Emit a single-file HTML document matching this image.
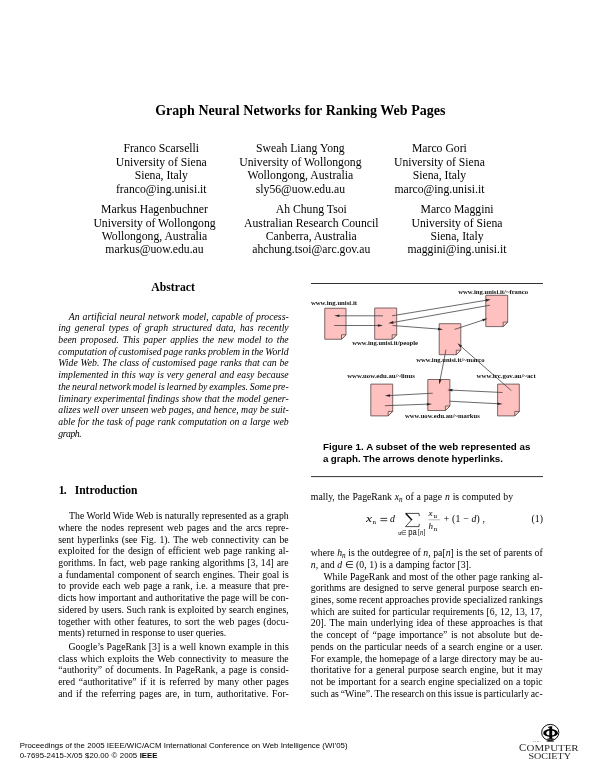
<!DOCTYPE html><html><head><meta charset="utf-8"><style>
html,body{margin:0;padding:0;background:#fff;}
body{width:600px;height:776px;position:relative;overflow:hidden;color:#000;}
#pg{position:absolute;left:0;top:0;width:600px;height:776px;color:#000;filter:blur(0.3px);}
.ln{position:absolute;white-space:nowrap;}
sub{font-size:74%;vertical-align:baseline;position:relative;top:0.3em;line-height:0;}
</style></head><body><div id="pg"><div class="ln" id="ln0" style="top:104.28px;font-size:14.00px;line-height:14.00px;font-family:'Liberation Serif', serif;font-weight:bold;font-style:normal;word-spacing:0.098px;left:155.20px;">Graph Neural Networks for Ranking Web Pages</div><div class="ln" id="ln1" style="top:143.20px;font-size:11.70px;line-height:11.70px;font-family:'Liberation Serif', serif;font-weight:normal;font-style:normal;left:161.25px;transform:translateX(-50%);">Franco Scarselli</div><div class="ln" id="ln2" style="top:156.70px;font-size:11.70px;line-height:11.70px;font-family:'Liberation Serif', serif;font-weight:normal;font-style:normal;left:161.25px;transform:translateX(-50%);">University of Siena</div><div class="ln" id="ln3" style="top:170.20px;font-size:11.70px;line-height:11.70px;font-family:'Liberation Serif', serif;font-weight:normal;font-style:normal;left:161.25px;transform:translateX(-50%);">Siena, Italy</div><div class="ln" id="ln4" style="top:183.60px;font-size:11.70px;line-height:11.70px;font-family:'Liberation Serif', serif;font-weight:normal;font-style:normal;left:161.25px;transform:translateX(-50%);">franco@ing.unisi.it</div><div class="ln" id="ln5" style="top:143.20px;font-size:11.70px;line-height:11.70px;font-family:'Liberation Serif', serif;font-weight:normal;font-style:normal;left:300.40px;transform:translateX(-50%);">Sweah Liang Yong</div><div class="ln" id="ln6" style="top:156.70px;font-size:11.70px;line-height:11.70px;font-family:'Liberation Serif', serif;font-weight:normal;font-style:normal;left:300.40px;transform:translateX(-50%);">University of Wollongong</div><div class="ln" id="ln7" style="top:170.20px;font-size:11.70px;line-height:11.70px;font-family:'Liberation Serif', serif;font-weight:normal;font-style:normal;left:300.40px;transform:translateX(-50%);">Wollongong, Australia</div><div class="ln" id="ln8" style="top:183.60px;font-size:11.70px;line-height:11.70px;font-family:'Liberation Serif', serif;font-weight:normal;font-style:normal;left:300.40px;transform:translateX(-50%);">sly56@uow.edu.au</div><div class="ln" id="ln9" style="top:143.20px;font-size:11.70px;line-height:11.70px;font-family:'Liberation Serif', serif;font-weight:normal;font-style:normal;left:439.40px;transform:translateX(-50%);">Marco Gori</div><div class="ln" id="ln10" style="top:156.70px;font-size:11.70px;line-height:11.70px;font-family:'Liberation Serif', serif;font-weight:normal;font-style:normal;left:439.40px;transform:translateX(-50%);">University of Siena</div><div class="ln" id="ln11" style="top:170.20px;font-size:11.70px;line-height:11.70px;font-family:'Liberation Serif', serif;font-weight:normal;font-style:normal;left:439.40px;transform:translateX(-50%);">Siena, Italy</div><div class="ln" id="ln12" style="top:183.60px;font-size:11.70px;line-height:11.70px;font-family:'Liberation Serif', serif;font-weight:normal;font-style:normal;left:439.40px;transform:translateX(-50%);">marco@ing.unisi.it</div><div class="ln" id="ln13" style="top:204.20px;font-size:11.70px;line-height:11.70px;font-family:'Liberation Serif', serif;font-weight:normal;font-style:normal;left:154.50px;transform:translateX(-50%);">Markus Hagenbuchner</div><div class="ln" id="ln14" style="top:217.95px;font-size:11.70px;line-height:11.70px;font-family:'Liberation Serif', serif;font-weight:normal;font-style:normal;left:154.50px;transform:translateX(-50%);">University of Wollongong</div><div class="ln" id="ln15" style="top:231.20px;font-size:11.70px;line-height:11.70px;font-family:'Liberation Serif', serif;font-weight:normal;font-style:normal;left:154.50px;transform:translateX(-50%);">Wollongong, Australia</div><div class="ln" id="ln16" style="top:244.20px;font-size:11.70px;line-height:11.70px;font-family:'Liberation Serif', serif;font-weight:normal;font-style:normal;left:154.50px;transform:translateX(-50%);">markus@uow.edu.au</div><div class="ln" id="ln17" style="top:204.20px;font-size:11.70px;line-height:11.70px;font-family:'Liberation Serif', serif;font-weight:normal;font-style:normal;left:311.25px;transform:translateX(-50%);">Ah Chung Tsoi</div><div class="ln" id="ln18" style="top:217.95px;font-size:11.70px;line-height:11.70px;font-family:'Liberation Serif', serif;font-weight:normal;font-style:normal;left:311.25px;transform:translateX(-50%);">Australian Research Council</div><div class="ln" id="ln19" style="top:231.20px;font-size:11.70px;line-height:11.70px;font-family:'Liberation Serif', serif;font-weight:normal;font-style:normal;left:311.25px;transform:translateX(-50%);">Canberra, Australia</div><div class="ln" id="ln20" style="top:244.20px;font-size:11.70px;line-height:11.70px;font-family:'Liberation Serif', serif;font-weight:normal;font-style:normal;left:311.25px;transform:translateX(-50%);">ahchung.tsoi@arc.gov.au</div><div class="ln" id="ln21" style="top:204.20px;font-size:11.70px;line-height:11.70px;font-family:'Liberation Serif', serif;font-weight:normal;font-style:normal;left:457.00px;transform:translateX(-50%);">Marco Maggini</div><div class="ln" id="ln22" style="top:217.95px;font-size:11.70px;line-height:11.70px;font-family:'Liberation Serif', serif;font-weight:normal;font-style:normal;left:457.00px;transform:translateX(-50%);">University of Siena</div><div class="ln" id="ln23" style="top:231.20px;font-size:11.70px;line-height:11.70px;font-family:'Liberation Serif', serif;font-weight:normal;font-style:normal;left:457.00px;transform:translateX(-50%);">Siena, Italy</div><div class="ln" id="ln24" style="top:244.20px;font-size:11.70px;line-height:11.70px;font-family:'Liberation Serif', serif;font-weight:normal;font-style:normal;left:457.00px;transform:translateX(-50%);">maggini@ing.unisi.it</div><div class="ln" id="ln25" style="top:281.70px;font-size:11.70px;line-height:11.70px;font-family:'Liberation Serif', serif;font-weight:bold;font-style:normal;letter-spacing:0.029px;left:151.25px;">Abstract</div><div class="ln" id="ln26" style="top:311.58px;font-size:9.75px;line-height:9.75px;font-family:'Liberation Serif', serif;font-weight:normal;font-style:italic;word-spacing:0.524px;left:68.75px;">An artificial neural network model, capable of process-</div><div class="ln" id="ln27" style="top:323.29px;font-size:9.75px;line-height:9.75px;font-family:'Liberation Serif', serif;font-weight:normal;font-style:italic;word-spacing:1.714px;left:58.25px;">ing general types of graph structured data, has recently</div><div class="ln" id="ln28" style="top:334.99px;font-size:9.75px;line-height:9.75px;font-family:'Liberation Serif', serif;font-weight:normal;font-style:italic;word-spacing:1.453px;left:58.25px;">been proposed. This paper applies the new model to the</div><div class="ln" id="ln29" style="top:346.70px;font-size:9.75px;line-height:9.75px;font-family:'Liberation Serif', serif;font-weight:normal;font-style:italic;word-spacing:-0.555px;left:58.25px;">computation of customised page ranks problem in the World</div><div class="ln" id="ln30" style="top:358.40px;font-size:9.75px;line-height:9.75px;font-family:'Liberation Serif', serif;font-weight:normal;font-style:italic;word-spacing:0.361px;left:58.25px;">Wide Web. The class of customised page ranks that can be</div><div class="ln" id="ln31" style="top:370.11px;font-size:9.75px;line-height:9.75px;font-family:'Liberation Serif', serif;font-weight:normal;font-style:italic;word-spacing:0.545px;left:58.25px;">implemented in this way is very general and easy because</div><div class="ln" id="ln32" style="top:381.81px;font-size:9.75px;line-height:9.75px;font-family:'Liberation Serif', serif;font-weight:normal;font-style:italic;word-spacing:-0.589px;left:58.25px;">the neural network model is learned by examples. Some pre-</div><div class="ln" id="ln33" style="top:393.52px;font-size:9.75px;line-height:9.75px;font-family:'Liberation Serif', serif;font-weight:normal;font-style:italic;word-spacing:0.258px;left:58.25px;">liminary experimental findings show that the model gener-</div><div class="ln" id="ln34" style="top:405.22px;font-size:9.75px;line-height:9.75px;font-family:'Liberation Serif', serif;font-weight:normal;font-style:italic;word-spacing:-0.025px;left:58.25px;">alizes well over unseen web pages, and hence, may be suit-</div><div class="ln" id="ln35" style="top:416.93px;font-size:9.75px;line-height:9.75px;font-family:'Liberation Serif', serif;font-weight:normal;font-style:italic;word-spacing:0.376px;left:58.25px;">able for the task of page rank computation on a large web</div><div class="ln" id="ln36" style="top:428.63px;font-size:9.75px;line-height:9.75px;font-family:'Liberation Serif', serif;font-weight:normal;font-style:italic;letter-spacing:-0.457px;left:58.25px;">graph.</div><div class="ln" id="ln37" style="top:485.09px;font-size:11.60px;line-height:11.60px;font-family:'Liberation Serif', serif;font-weight:bold;font-style:normal;letter-spacing:-0.703px;left:58.70px;">1.</div><div class="ln" id="ln38" style="top:485.09px;font-size:11.60px;line-height:11.60px;font-family:'Liberation Serif', serif;font-weight:bold;font-style:normal;letter-spacing:-0.013px;left:74.70px;">Introduction</div><div class="ln" id="ln39" style="top:511.13px;font-size:9.75px;line-height:9.75px;font-family:'Liberation Serif', serif;font-weight:normal;font-style:normal;word-spacing:-0.020px;left:69.10px;">The World Wide Web is naturally represented as a graph</div><div class="ln" id="ln40" style="top:522.85px;font-size:9.75px;line-height:9.75px;font-family:'Liberation Serif', serif;font-weight:normal;font-style:normal;word-spacing:1.211px;left:58.25px;">where the nodes represent web pages and the arcs repre-</div><div class="ln" id="ln41" style="top:534.57px;font-size:9.75px;line-height:9.75px;font-family:'Liberation Serif', serif;font-weight:normal;font-style:normal;word-spacing:0.866px;left:58.25px;">sent hyperlinks (see Fig. 1). The web connectivity can be</div><div class="ln" id="ln42" style="top:546.29px;font-size:9.75px;line-height:9.75px;font-family:'Liberation Serif', serif;font-weight:normal;font-style:normal;word-spacing:0.928px;left:58.25px;">exploited for the design of efficient web page ranking al-</div><div class="ln" id="ln43" style="top:558.01px;font-size:9.75px;line-height:9.75px;font-family:'Liberation Serif', serif;font-weight:normal;font-style:normal;word-spacing:0.515px;left:58.25px;">gorithms. In fact, web page ranking algorithms [3, 14] are</div><div class="ln" id="ln44" style="top:569.73px;font-size:9.75px;line-height:9.75px;font-family:'Liberation Serif', serif;font-weight:normal;font-style:normal;word-spacing:0.636px;left:58.25px;">a fundamental component of search engines. Their goal is</div><div class="ln" id="ln45" style="top:581.45px;font-size:9.75px;line-height:9.75px;font-family:'Liberation Serif', serif;font-weight:normal;font-style:normal;word-spacing:0.966px;left:58.25px;">to provide each web page a rank, i.e. a measure that pre-</div><div class="ln" id="ln46" style="top:593.17px;font-size:9.75px;line-height:9.75px;font-family:'Liberation Serif', serif;font-weight:normal;font-style:normal;word-spacing:0.003px;left:58.25px;">dicts how important and authoritative the page will be con-</div><div class="ln" id="ln47" style="top:604.89px;font-size:9.75px;line-height:9.75px;font-family:'Liberation Serif', serif;font-weight:normal;font-style:normal;word-spacing:0.184px;left:58.25px;">sidered by users. Such rank is exploited by search engines,</div><div class="ln" id="ln48" style="top:616.61px;font-size:9.75px;line-height:9.75px;font-family:'Liberation Serif', serif;font-weight:normal;font-style:normal;word-spacing:0.876px;left:58.25px;">together with other features, to sort the web pages (docu-</div><div class="ln" id="ln49" style="top:628.33px;font-size:9.75px;line-height:9.75px;font-family:'Liberation Serif', serif;font-weight:normal;font-style:normal;word-spacing:-0.294px;left:58.25px;">ments) returned in response to user queries.</div><div class="ln" id="ln50" style="top:641.93px;font-size:9.75px;line-height:9.75px;font-family:'Liberation Serif', serif;font-weight:normal;font-style:normal;word-spacing:0.366px;left:68.50px;">Google’s PageRank [3] is a well known example in this</div><div class="ln" id="ln51" style="top:653.63px;font-size:9.75px;line-height:9.75px;font-family:'Liberation Serif', serif;font-weight:normal;font-style:normal;word-spacing:0.970px;left:58.25px;">class which exploits the Web connectivity to measure the</div><div class="ln" id="ln52" style="top:665.33px;font-size:9.75px;line-height:9.75px;font-family:'Liberation Serif', serif;font-weight:normal;font-style:normal;word-spacing:0.781px;left:58.25px;">“authority” of documents. In PageRank, a page is consid-</div><div class="ln" id="ln53" style="top:677.03px;font-size:9.75px;line-height:9.75px;font-family:'Liberation Serif', serif;font-weight:normal;font-style:normal;word-spacing:1.270px;left:58.25px;">ered “authoritative” if it is referred by many other pages</div><div class="ln" id="ln54" style="top:688.73px;font-size:9.75px;line-height:9.75px;font-family:'Liberation Serif', serif;font-weight:normal;font-style:normal;word-spacing:1.321px;left:58.25px;">and if the referring pages are, in turn, authoritative. For-</div><div class="ln" id="ln55" style="top:492.33px;font-size:9.75px;line-height:9.75px;font-family:'Liberation Serif', serif;font-weight:normal;font-style:normal;word-spacing:0.400px;left:310.80px;">mally, the PageRank <i>x</i><sub><i>n</i></sub> of a page <i>n</i> is computed by</div><div class="ln" id="ln56" style="top:548.03px;font-size:9.75px;line-height:9.75px;font-family:'Liberation Serif', serif;font-weight:normal;font-style:normal;word-spacing:0.105px;left:310.80px;">where <i>h</i><sub><i>n</i></sub> is the outdegree of <i>n</i>, pa[<i>n</i>] is the set of parents of</div><div class="ln" id="ln57" style="top:559.93px;font-size:9.75px;line-height:9.75px;font-family:'Liberation Serif', serif;font-weight:normal;font-style:normal;word-spacing:0.069px;left:310.80px;"><i>n</i>, and <i>d</i> ∈ (0, 1) is a damping factor [3].</div><div class="ln" id="ln58" style="top:571.58px;font-size:9.75px;line-height:9.75px;font-family:'Liberation Serif', serif;font-weight:normal;font-style:normal;word-spacing:0.269px;left:323.40px;">While PageRank and most of the other page ranking al-</div><div class="ln" id="ln59" style="top:583.29px;font-size:9.75px;line-height:9.75px;font-family:'Liberation Serif', serif;font-weight:normal;font-style:normal;word-spacing:0.763px;left:310.80px;">gorithms are designed to serve general purpose search en-</div><div class="ln" id="ln60" style="top:595.00px;font-size:9.75px;line-height:9.75px;font-family:'Liberation Serif', serif;font-weight:normal;font-style:normal;word-spacing:-0.110px;left:310.80px;">gines, some recent approaches provide specialized rankings</div><div class="ln" id="ln61" style="top:606.71px;font-size:9.75px;line-height:9.75px;font-family:'Liberation Serif', serif;font-weight:normal;font-style:normal;word-spacing:0.420px;left:310.80px;">which are suited for particular requirements  [6, 12, 13, 17,</div><div class="ln" id="ln62" style="top:618.42px;font-size:9.75px;line-height:9.75px;font-family:'Liberation Serif', serif;font-weight:normal;font-style:normal;word-spacing:0.937px;left:310.80px;">20]. The main underlying idea of these approaches is that</div><div class="ln" id="ln63" style="top:630.13px;font-size:9.75px;line-height:9.75px;font-family:'Liberation Serif', serif;font-weight:normal;font-style:normal;word-spacing:1.369px;left:310.80px;">the concept of “page importance” is not absolute but de-</div><div class="ln" id="ln64" style="top:641.84px;font-size:9.75px;line-height:9.75px;font-family:'Liberation Serif', serif;font-weight:normal;font-style:normal;word-spacing:0.654px;left:310.80px;">pends on the particular needs of a search engine or a user.</div><div class="ln" id="ln65" style="top:653.55px;font-size:9.75px;line-height:9.75px;font-family:'Liberation Serif', serif;font-weight:normal;font-style:normal;word-spacing:0.115px;left:310.80px;">For example, the homepage of a large directory may be au-</div><div class="ln" id="ln66" style="top:665.26px;font-size:9.75px;line-height:9.75px;font-family:'Liberation Serif', serif;font-weight:normal;font-style:normal;word-spacing:0.739px;left:310.80px;">thoritative for a general purpose search engine, but it may</div><div class="ln" id="ln67" style="top:676.97px;font-size:9.75px;line-height:9.75px;font-family:'Liberation Serif', serif;font-weight:normal;font-style:normal;word-spacing:0.448px;left:310.80px;">not be important for a search engine specialized on a topic</div><div class="ln" id="ln68" style="top:688.68px;font-size:9.75px;line-height:9.75px;font-family:'Liberation Serif', serif;font-weight:normal;font-style:normal;word-spacing:-0.443px;left:310.80px;">such as “Wine”. The research on this issue is particularly ac-</div><div class="ln" id="ln69" style="top:442.05px;font-size:9.75px;line-height:9.75px;font-family:'Liberation Sans', sans-serif;font-weight:bold;font-style:normal;word-spacing:0.075px;left:323.00px;">Figure 1. A subset of the web represented as</div><div class="ln" id="ln70" style="top:453.55px;font-size:9.75px;line-height:9.75px;font-family:'Liberation Sans', sans-serif;font-weight:bold;font-style:normal;word-spacing:-0.303px;left:323.00px;">a graph. The arrows denote hyperlinks.</div><div class="ln" id="ln71" style="top:742.30px;font-size:7.80px;line-height:7.80px;font-family:'Liberation Sans', sans-serif;font-weight:normal;font-style:normal;word-spacing:0.116px;left:19.70px;">Proceedings of the 2005 IEEE/WIC/ACM International Conference on Web Intelligence (WI’05)</div><div class="ln" id="ln72" style="top:751.50px;font-size:7.80px;line-height:7.80px;font-family:'Liberation Sans', sans-serif;font-weight:normal;font-style:normal;word-spacing:0.388px;left:19.70px;">0-7695-2415-X/05 $20.00 © 2005 <b>IEEE</b></div><svg style="position:absolute;left:0;top:0" width="600" height="776" viewBox="0 0 600 776">
<line x1="311" y1="283.5" x2="543" y2="283.5" stroke="#333" stroke-width="1"/>
<line x1="311" y1="476.6" x2="543" y2="476.6" stroke="#333" stroke-width="1"/>
<path d="M324.75 308.25H346.00V334.75L341.50 339.25H324.75Z" fill="#ffc0c0" stroke="#5a4646" stroke-width="0.8"/>
<path d="M346.00 334.75H341.50V339.25Z" fill="#ffd8d8" stroke="#5a4646" stroke-width="0.8"/>
<path d="M374.70 308.00H396.70V334.80L392.20 339.30H374.70Z" fill="#ffc0c0" stroke="#5a4646" stroke-width="0.8"/>
<path d="M396.70 334.80H392.20V339.30Z" fill="#ffd8d8" stroke="#5a4646" stroke-width="0.8"/>
<path d="M485.80 295.30H507.70V322.10L503.20 326.60H485.80Z" fill="#ffc0c0" stroke="#5a4646" stroke-width="0.8"/>
<path d="M507.70 322.10H503.20V326.60Z" fill="#ffd8d8" stroke="#5a4646" stroke-width="0.8"/>
<path d="M439.20 323.70H460.80V350.20L456.30 354.70H439.20Z" fill="#ffc0c0" stroke="#5a4646" stroke-width="0.8"/>
<path d="M460.80 350.20H456.30V354.70Z" fill="#ffd8d8" stroke="#5a4646" stroke-width="0.8"/>
<path d="M370.80 384.10H392.70V411.40L388.20 415.90H370.80Z" fill="#ffc0c0" stroke="#5a4646" stroke-width="0.8"/>
<path d="M392.70 411.40H388.20V415.90Z" fill="#ffd8d8" stroke="#5a4646" stroke-width="0.8"/>
<path d="M427.80 379.50H449.90V406.00L445.40 410.50H427.80Z" fill="#ffc0c0" stroke="#5a4646" stroke-width="0.8"/>
<path d="M449.90 406.00H445.40V410.50Z" fill="#ffd8d8" stroke="#5a4646" stroke-width="0.8"/>
<path d="M497.60 384.10H519.30V411.40L514.80 415.90H497.60Z" fill="#ffc0c0" stroke="#5a4646" stroke-width="0.8"/>
<path d="M519.30 411.40H514.80V415.90Z" fill="#ffd8d8" stroke="#5a4646" stroke-width="0.8"/>
<line x1="383.00" y1="315.80" x2="339.40" y2="315.80" stroke="#444" stroke-width="0.8"/>
<path d="M334.20 315.80L339.40 314.50L339.40 317.10Z" fill="#222"/>
<line x1="334.20" y1="325.50" x2="377.80" y2="325.50" stroke="#444" stroke-width="0.8"/>
<path d="M383.00 325.50L377.80 326.80L377.80 324.20Z" fill="#222"/>
<line x1="392.00" y1="315.80" x2="485.67" y2="300.35" stroke="#444" stroke-width="0.8"/>
<path d="M490.80 299.50L485.88 301.63L485.46 299.06Z" fill="#222"/>
<line x1="490.00" y1="305.20" x2="393.42" y2="322.39" stroke="#444" stroke-width="0.8"/>
<path d="M388.30 323.30L393.19 321.11L393.65 323.67Z" fill="#222"/>
<line x1="392.50" y1="325.50" x2="437.92" y2="329.00" stroke="#444" stroke-width="0.8"/>
<path d="M443.10 329.40L437.82 330.30L438.02 327.70Z" fill="#222"/>
<line x1="454.60" y1="329.40" x2="482.56" y2="320.22" stroke="#444" stroke-width="0.8"/>
<path d="M487.50 318.60L482.96 321.46L482.15 318.99Z" fill="#222"/>
<line x1="446.00" y1="349.70" x2="440.20" y2="379.40" stroke="#444" stroke-width="0.8"/>
<path d="M439.20 384.50L438.92 379.15L441.47 379.65Z" fill="#222"/>
<line x1="511.30" y1="390.60" x2="461.30" y2="346.63" stroke="#444" stroke-width="0.8"/>
<path d="M457.40 343.20L462.16 345.66L460.45 347.61Z" fill="#222"/>
<line x1="432.70" y1="393.20" x2="390.09" y2="395.52" stroke="#444" stroke-width="0.8"/>
<path d="M384.90 395.80L390.02 394.22L390.16 396.82Z" fill="#222"/>
<line x1="384.90" y1="405.70" x2="426.80" y2="404.19" stroke="#444" stroke-width="0.8"/>
<path d="M432.00 404.00L426.85 405.49L426.76 402.89Z" fill="#222"/>
<line x1="502.60" y1="392.50" x2="452.49" y2="390.14" stroke="#444" stroke-width="0.8"/>
<path d="M447.30 389.90L452.56 388.85L452.43 391.44Z" fill="#222"/>
<line x1="449.50" y1="401.20" x2="497.41" y2="403.73" stroke="#444" stroke-width="0.8"/>
<path d="M502.60 404.00L497.34 405.02L497.48 402.43Z" fill="#222"/>
<text x="310.90" y="304.60" textLength="46.10" lengthAdjust="spacingAndGlyphs" font-family="Liberation Serif" font-weight="bold" font-size="6.6" fill="#111">www.ing.unisi.it</text>
<text x="352.30" y="345.40" textLength="65.70" lengthAdjust="spacingAndGlyphs" font-family="Liberation Serif" font-weight="bold" font-size="6.6" fill="#111">www.ing.unisi.it/people</text>
<text x="458.20" y="293.75" textLength="69.80" lengthAdjust="spacingAndGlyphs" font-family="Liberation Serif" font-weight="bold" font-size="6.6" fill="#111">www.ing.unisi.it/~franco</text>
<text x="416.30" y="362.00" textLength="68.20" lengthAdjust="spacingAndGlyphs" font-family="Liberation Serif" font-weight="bold" font-size="6.6" fill="#111">www.ing.unisi.it/~marco</text>
<text x="347.20" y="378.40" textLength="67.60" lengthAdjust="spacingAndGlyphs" font-family="Liberation Serif" font-weight="bold" font-size="6.6" fill="#111">www.uow.edu.au/~linus</text>
<text x="476.60" y="378.40" textLength="59.10" lengthAdjust="spacingAndGlyphs" font-family="Liberation Serif" font-weight="bold" font-size="6.6" fill="#111">www.irc.gov.au/~act</text>
<text x="405.00" y="417.70" textLength="74.80" lengthAdjust="spacingAndGlyphs" font-family="Liberation Serif" font-weight="bold" font-size="6.6" fill="#111">www.uow.edu.au/~markus</text>
<text x="366.10" y="522.10" font-family="Liberation Serif" font-size="9.75" font-style="italic" font-weight="normal" fill="#000" textLength="6.0" lengthAdjust="spacingAndGlyphs">x</text>
<text x="372.40" y="524.00" font-family="Liberation Serif" font-size="7.00" font-style="normal" font-weight="normal" fill="#000" >n</text>
<rect x="380.4" y="517.9" width="6.8" height="0.75" fill="#000"/><rect x="380.4" y="520.4" width="6.8" height="0.75" fill="#000"/>
<text x="390.00" y="522.10" font-family="Liberation Serif" font-size="9.75" font-style="italic" font-weight="normal" fill="#000" >d</text>
<path d="M405.30 513.40H419.00L419.30 516.20" fill="none" stroke="#000" stroke-width="0.7"/>
<path d="M405.80 513.50L411.90 520.00" fill="none" stroke="#000" stroke-width="1.3"/>
<path d="M411.90 519.50L405.50 526.60H419.00L419.30 523.80" fill="none" stroke="#000" stroke-width="0.7"/>
<text x="398.30" y="534.80" font-family="Liberation Serif" font-size="6.80" font-style="normal" font-weight="normal" fill="#000" textLength="8.5" lengthAdjust="spacingAndGlyphs">u∈</text>
<text x="408.20" y="534.80" font-family="Liberation Sans" font-size="8.60" font-style="normal" font-weight="normal" fill="#000" textLength="8.5" lengthAdjust="spacingAndGlyphs">pa</text>
<text x="417.90" y="534.80" font-family="Liberation Serif" font-size="7.20" font-style="normal" font-weight="normal" fill="#000" textLength="7.6" lengthAdjust="spacingAndGlyphs">[<tspan font-style="italic">n</tspan>]</text>
<text x="428.60" y="516.30" font-family="Liberation Serif" font-size="9.00" font-style="italic" font-weight="normal" fill="#000" >x</text>
<text x="433.40" y="517.90" font-family="Liberation Serif" font-size="7.00" font-style="normal" font-weight="normal" fill="#000" >u</text>
<line x1="428.5" y1="519.8" x2="440.2" y2="519.8" stroke="#555" stroke-width="0.4"/>
<text x="428.60" y="529.00" font-family="Liberation Serif" font-size="9.00" font-style="italic" font-weight="normal" fill="#000" >h</text>
<text x="433.80" y="530.60" font-family="Liberation Serif" font-size="7.00" font-style="normal" font-weight="normal" fill="#000" >n</text>
<text x="443.80" y="522.10" font-family="Liberation Serif" font-size="9.75" font-style="normal" font-weight="normal" fill="#000" textLength="41.2" lengthAdjust="spacing">+ (1 − <tspan font-style="italic">d</tspan>) ,</text>
<text x="531.60" y="522.10" font-family="Liberation Serif" font-size="9.75" font-style="normal" font-weight="normal" fill="#000" >(1)</text>
<ellipse cx="550.25" cy="732.5" rx="8.6" ry="8.1" fill="none" stroke="#000" stroke-width="0.95"/>
<path d="M543.2 733a7.4 3.9 0 1 0 14.8 0a7.4 3.9 0 1 0 -14.8 0ZM546.3 733a4.3 2.5 0 1 0 8.6 0a4.3 2.5 0 1 0 -8.6 0Z" fill="#000" fill-rule="evenodd"/>
<rect x="549.3" y="726.3" width="2.9" height="12.6" fill="#000"/>
<path d="M547.8 727.6L549.3 726.3V728Z" fill="#000"/>
<rect x="547.3" y="738.5" width="6.5" height="1.2" fill="#000"/>
<rect x="546.8" y="740.7" width="7" height="0.9" fill="#000"/>
<text x="532.5" y="741.6" font-family="Liberation Serif" font-size="2.8" fill="#555" textLength="8" lengthAdjust="spacingAndGlyphs">THE</text>
<text x="519.1" y="750.8" font-family="Liberation Serif" font-size="10.4" fill="#222" textLength="7.2" lengthAdjust="spacingAndGlyphs">C</text>
<text x="526.6" y="750.8" font-family="Liberation Serif" font-size="8.0" fill="#222" textLength="52" lengthAdjust="spacingAndGlyphs">OMPUTER</text>
<text x="528.4" y="759.0" font-family="Liberation Serif" font-size="8.0" fill="#222" textLength="42.6" lengthAdjust="spacingAndGlyphs">SOCIETY</text>
</svg></div></body></html>
